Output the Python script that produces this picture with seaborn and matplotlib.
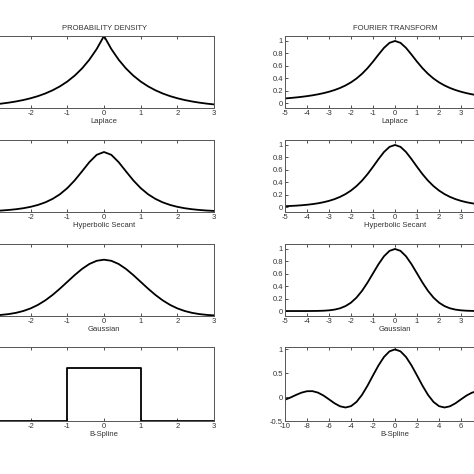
import numpy as np
import matplotlib
matplotlib.use("Agg")
import matplotlib.pyplot as plt
import seaborn as sns

sns.set_theme(style="white")
plt.rcParams['font.family'] = ['Liberation Sans', 'DejaVu Sans']
plt.rcParams['axes.unicode_minus'] = False

# left: probability densities, half-samples x = 0..3 step 0.2
x_half = [0.0,0.2,0.4,0.6,0.8,1.0,1.2,1.4,1.6,1.8,2.0,2.2,2.4,2.6,2.8,3.0]
laplace_pdf = [.5,.4094,.3352,.2744,.2247,.1839,.1506,.1233,.1009,.0826,.0677,.0554,.0454,.0372,.0304,.0249]
hsec_pdf = [.5,.4763,.4153,.3383,.2633,.1993,.1483,.1096,.0805,.0590,.0431,.0315,.0231,.0169,.0123,.0090]
gauss_pdf = [.3989,.3910,.3683,.3332,.2897,.2420,.1942,.1497,.1109,.0790,.0540,.0355,.0224,.0136,.0079,.0044]
bspline_x = [-3,-1,-1,1,1,3]
bspline_pdf = [0,0,.5,.5,0,0]

# right: Fourier transforms, half-samples t = 0..5 step 0.25
t_half = [0,.25,.5,.75,1,1.25,1.5,1.75,2,2.25,2.5,2.75,3,3.25,3.5,3.75,4,4.25,4.5,4.75,5]
laplace_ft = [1,.9697,.8889,.7805,.6667,.5614,.4706,.3951,.3333,.2832,.2424,.2092,.1818,.1593,.1404,.1245,.1111,.0997,.0899,.0814,.0741]
hsec_ft = [1,.9696,.8868,.7724,.6481,.5295,.4251,.3374,.2658,.2085,.1631,.1273,.0993,.0774,.0603,.0470,.0366,.0285,.0222,.0173,.0135]
gauss_ft = [1,.9692,.8825,.7548,.6065,.4578,.3247,.2163,.1353,.0796,.0439,.0228,.0111,.0051,.0022,.0009,.0003,.0001,0,0,0]
# B-spline FT, t = 0..10 step 0.5
s_half = [0,.5,1,1.5,2,2.5,3,3.5,4,4.5,5,5.5,6,6.5,7,7.5,8,8.5,9,9.5,10]
bspline_ft = [1,.9589,.8415,.6650,.4546,.2394,.0470,-.1002,-.1892,-.2172,-.1918,-.1283,-.0466,.0331,.0939,.1251,.1237,.0939,.0458,-.0079,-.0544]

names = ["Laplace", "Hyperbolic Secant", "Gaussian", "B-Spline"]

def mirror(xh, yh):
    x = [-v for v in xh[::-1]] + list(xh[1:])
    y = list(yh[::-1]) + list(yh[1:])
    return x, y

W = H = 474
fig = plt.figure(figsize=(4.74, 4.74), dpi=100)
rows = [(36,108),(140,212),(244,316),(347,421)]

def mkax(x0, x1, top, bot):
    return fig.add_axes([x0/W, 1-bot/H, (x1-x0)/W, (bot-top)/H])

left_data = [mirror(x_half, laplace_pdf), mirror(x_half, hsec_pdf), mirror(x_half, gauss_pdf), (bspline_x, bspline_pdf)]
left_ylim = [(0,0.5),(0,0.6),(0,0.51),(0,0.7)]
right_data = [mirror(t_half, laplace_ft), mirror(t_half, hsec_ft), mirror(t_half, gauss_ft), mirror(s_half, bspline_ft)]
right_ylim = [(-0.08,1.08),(-0.08,1.08),(-0.08,1.08),(-0.5,1.05)]

fs = 5.5
for i, (top, bot) in enumerate(rows):
    axl = mkax(-6, 214, top, bot)
    xl, yl = left_data[i]
    sns.lineplot(x=xl, y=yl, ax=axl, color="black", lw=1.3, sort=False, estimator=None)
    axl.set_xlim(-3, 3); axl.set_ylim(*left_ylim[i])
    axl.set_xticks([-3,-2,-1,0,1,2,3])
    axl.set_yticks([])
    axl.set_xlabel(names[i], fontsize=fs, labelpad=1, color="#333")

    axr = mkax(285, 505, top, bot)
    xr, yr = right_data[i]
    sns.lineplot(x=xr, y=yr, ax=axr, color="black", lw=1.3, sort=False, estimator=None)
    if i < 3:
        axr.set_xlim(-5, 5); axr.set_xticks(range(-5, 6))
        axr.set_yticks([0,0.2,0.4,0.6,0.8,1]); axr.set_yticklabels(["0","0.2","0.4","0.6","0.8","1"])
    else:
        axr.set_xlim(-10, 10); axr.set_xticks(range(-10, 11, 2))
        axr.set_yticks([-0.5,0,0.5,1]); axr.set_yticklabels(["-0.5","0","0.5","1"])
    axr.set_ylim(*right_ylim[i])
    axr.set_xlabel(names[i], fontsize=fs, labelpad=1, color="#333")

    for ax in (axl, axr):
        ax.tick_params(direction="in", length=2.5, width=0.6, labelsize=fs, pad=1.5,
                       top=True, right=True, bottom=True, left=True, colors="#333")
        for s in ax.spines.values():
            s.set_color("#555"); s.set_linewidth(0.7); s.set_visible(True)
    if i == 0:
        axl.set_title("PROBABILITY DENSITY", fontsize=fs, pad=4, color="#333")
        axr.set_title("FOURIER TRANSFORM", fontsize=fs, pad=4, color="#333")

fig.savefig("out.png", dpi=100)
